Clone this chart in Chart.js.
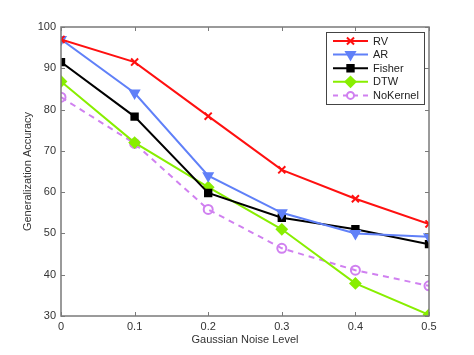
<!DOCTYPE html>
<html><head><meta charset="utf-8">
<script src="https://cdn.jsdelivr.net/npm/chart.js@4"></script>
<style>html,body{margin:0;padding:0;background:#fff}#wrap{width:474px;height:355px}</style>
</head><body><div id="wrap"><canvas id="c" width="474" height="355"></canvas></div>
<script>
const noiseLevels = [0, 0.1, 0.2, 0.3, 0.4, 0.5];
const rv = [97.0, 91.5, 78.4, 65.4, 58.4, 52.3];
const ar = [97.0, 84.0, 64.0, 55.0, 50.0, 49.2];
const fisher = [91.5, 78.3, 59.8, 53.8, 51.0, 47.4];
const dtw = [86.8, 72.0, 61.2, 51.0, 37.9, 30.3];
const noKernel = [83.0, 71.8, 55.8, 46.4, 41.1, 37.3];
const xTicks = [0, 0.1, 0.2, 0.3, 0.4, 0.5];
const yTicks = [30, 40, 50, 60, 70, 80, 90, 100];
const seriesNames = ['RV', 'AR', 'Fisher', 'DTW', 'NoKernel'];

const FONT = 'Liberation Sans, Arial, sans-serif';
const AXIS = '#7a7a7a';

function pts(arr){ return noiseLevels.map((x,i)=>({x:x, y:arr[i]})); }

const styles = [
  {color:'#ff1010', pointStyle:'crossRot', radius:5, fill:'#ff1010', dash:[], rotation:0},
  {color:'#6080f8', pointStyle:'triangle', radius:5, fill:'#6080f8', dash:[], rotation:180},
  {color:'#000000', pointStyle:'rect', radius:4.5, fill:'#000000', dash:[], rotation:0},
  {color:'#88ee00', pointStyle:'rectRot', radius:5, fill:'#88ee00', dash:[], rotation:0},
  {color:'#d080f0', pointStyle:'circle', radius:4.5, fill:'rgba(0,0,0,0)', dash:[6,5], rotation:0}
];
const seriesData = [rv, ar, fisher, dtw, noKernel];

const datasets = seriesNames.map((n,i)=>({
  label:n, data:pts(seriesData[i]),
  borderColor:styles[i].color, backgroundColor:styles[i].fill,
  borderWidth:2, borderDash:styles[i].dash,
  pointStyle:styles[i].pointStyle, pointRadius:styles[i].radius,
  pointRotation:styles[i].rotation,
  pointBorderColor:styles[i].color, pointBackgroundColor:styles[i].fill,
  pointBorderWidth:2, tension:0, fill:false
}));

const boxPlugin = {
  id:'boxPlugin',
  afterDraw(chart){
    const ctx = chart.ctx, a = chart.chartArea;
    const xs = chart.scales.x, ys = chart.scales.y;
    ctx.save();
    ctx.strokeStyle = AXIS; ctx.lineWidth = 1.5;
    ctx.strokeRect(a.left, a.top, a.right-a.left, a.bottom-a.top);
    ctx.lineWidth = 1;
    const tl = 4;
    xTicks.forEach(v=>{
      const p = Math.round(xs.getPixelForValue(v))+0.5;
      ctx.beginPath(); ctx.moveTo(p, a.bottom); ctx.lineTo(p, a.bottom-tl);
      ctx.moveTo(p, a.top); ctx.lineTo(p, a.top+tl); ctx.stroke();
    });
    yTicks.forEach(v=>{
      const p = Math.round(ys.getPixelForValue(v))+0.5;
      ctx.beginPath(); ctx.moveTo(a.left, p); ctx.lineTo(a.left+tl, p);
      ctx.moveTo(a.right, p); ctx.lineTo(a.right-tl, p); ctx.stroke();
    });
    // legend
    const lx = 326, ly = 32, lw = 98, lh = 72;
    ctx.fillStyle = '#fff'; ctx.fillRect(lx, ly, lw, lh);
    ctx.strokeStyle = '#444'; ctx.lineWidth = 1;
    ctx.strokeRect(lx+0.5, ly+0.5, lw, lh);
    ctx.font = '11px ' + FONT; ctx.textBaseline = 'middle'; ctx.textAlign = 'left';
    seriesNames.forEach((n,i)=>{
      const y = ly + 9 + i*13.6;
      const s = styles[i];
      ctx.strokeStyle = s.color; ctx.lineWidth = 2; ctx.setLineDash(s.dash.length? [5,5]:[]);
      ctx.beginPath(); ctx.moveTo(lx+7, y); ctx.lineTo(lx+42, y); ctx.stroke();
      ctx.setLineDash([]);
      ctx.fillStyle = s.fill; ctx.strokeStyle = s.color; ctx.lineWidth = 2;
      Chart.helpers.drawPoint(ctx, {pointStyle:s.pointStyle, radius:s.pointStyle==='circle'?3.5:s.radius, rotation:s.rotation, borderWidth:2}, lx+24.5, y);
      ctx.fillStyle = '#222';
      ctx.fillText(n, lx+47, y+0.5);
    });
    ctx.restore();
  }
};

new Chart(document.getElementById('c'), {
  type:'line',
  data:{datasets},
  options:{
    responsive:false, animation:false, maintainAspectRatio:false,
    layout:{padding:{left:0, right:45, top:27, bottom:0}},
    plugins:{legend:{display:false}, tooltip:{enabled:false}},
    scales:{
      x:{type:'linear', min:0, max:0.5,
        afterBuildTicks(s){ s.ticks = xTicks.map(v=>({value:v})); },
        afterFit(s){ s.height = 39; },
        grid:{display:false, drawTicks:false}, border:{display:false},
        ticks:{padding:4, color:'#333', font:{family:FONT, size:11}, maxRotation:0,
          callback:v=>String(v)},
        title:{display:true, text:'Gaussian Noise Level', color:'#333', font:{family:FONT, size:11}, padding:{top:0,bottom:8}}
      },
      y:{min:30, max:100,
        afterBuildTicks(s){ s.ticks = yTicks.map(v=>({value:v})); },
        afterFit(s){ s.width = 61; },
        grid:{display:false, drawTicks:false}, border:{display:false},
        ticks:{padding:5, color:'#333', font:{family:FONT, size:11}},
        title:{display:true, text:'Generalization Accuracy', color:'#333', font:{family:FONT, size:11}, padding:{top:21,bottom:0}}
      }
    }
  },
  plugins:[boxPlugin]
});
</script></body></html>
